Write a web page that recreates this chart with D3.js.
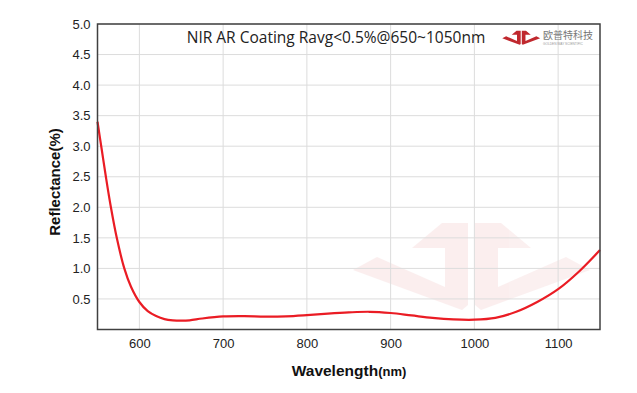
<!DOCTYPE html>
<html>
<head>
<meta charset="utf-8">
<script src="https://cdn.jsdelivr.net/npm/d3@7"></script>
<style>
  body { margin: 0; background: #fff; }
  svg { display: block; }
</style>
</head>
<body>
<script>
// Reflectance curve
const wavelength = [550, 555, 560, 566, 573, 582, 590, 600, 610, 620, 630, 640, 650, 660, 675,
  700, 725, 750, 775, 800, 825, 850, 875, 900, 925, 950, 975, 1000, 1025, 1050, 1075, 1100, 1125, 1150];
const reflectance = [3.40, 2.95, 2.50, 2.00, 1.50, 1.00, 0.70, 0.45, 0.30, 0.22, 0.17, 0.15, 0.145, 0.15, 0.18,
  0.215, 0.22, 0.21, 0.215, 0.235, 0.26, 0.28, 0.29, 0.27, 0.23, 0.19, 0.165, 0.16, 0.19, 0.29, 0.45, 0.66, 0.95, 1.30];

const xTicks = [600, 700, 800, 900, 1000, 1100];
const yTicks = [0.5, 1.0, 1.5, 2.0, 2.5, 3.0, 3.5, 4.0, 4.5, 5.0];

const title = "NIR AR Coating Ravg<0.5%@650~1050nm";
const brandName = "欧普特科技";
const brandSub = "GOLDEN WAY SCIENTIFIC";

const width = 637, height = 393;
const margin = { top: 24, right: 37, bottom: 64, left: 97.5 };

const svg = d3.select("body").append("svg")
    .attr("width", width)
    .attr("height", height);

const x = d3.scaleLinear().domain([550, 1150]).range([margin.left, width - margin.right]);
const y = d3.scaleLinear().domain([0, 5]).range([height - margin.bottom + 0.5, margin.top]);

// logo shape (left "J" half, right half mirrored), in a ~245x95 box
const leftPiece = [[8, 55], [32, 42], [100, 72], [100, 33], [67, 33], [97, 8],
  [123, 8], [123, 90], [117, 95]];
const rightPiece = leftPiece.map(([px, py]) => [253 - px, py]);
const logoLine = d3.line();

function drawLogo(g, x0, y0, s, fill, opacity) {
  const grp = g.append("g")
      .attr("transform", `translate(${x0},${y0}) scale(${s})`)
      .attr("fill", fill)
      .attr("opacity", opacity);
  grp.append("path").attr("d", logoLine(leftPiece) + "Z");
  grp.append("path").attr("d", logoLine(rightPiece) + "Z");
}

// faint watermark in the plot
drawLogo(svg, 345, 215, 1, "#d03a3a", 0.08);

// grid
svg.append("g")
  .selectAll("line")
  .data(xTicks)
  .join("line")
    .attr("x1", d => x(d)).attr("x2", d => x(d))
    .attr("y1", y(0)).attr("y2", y(5))
    .attr("stroke", "#dcdcdc");

svg.append("g")
  .selectAll("line")
  .data(yTicks)
  .join("line")
    .attr("x1", x(550)).attr("x2", x(1150))
    .attr("y1", d => y(d)).attr("y2", d => y(d))
    .attr("stroke", "#dcdcdc");

// curve
const line = d3.line()
    .x((d, i) => x(wavelength[i]))
    .y(d => y(d))
    .curve(d3.curveCatmullRom.alpha(0.5));

svg.append("path")
    .datum(reflectance)
    .attr("d", line)
    .attr("fill", "none")
    .attr("stroke", "#ea1c24")
    .attr("stroke-width", 2.2);

// frame
svg.append("rect")
    .attr("x", x(550)).attr("y", y(5))
    .attr("width", x(1150) - x(550))
    .attr("height", y(0) - y(5))
    .attr("fill", "none")
    .attr("stroke", "#404040")
    .attr("stroke-width", 1.5);

// axes
const xAxis = svg.append("g")
    .attr("transform", `translate(0,${y(0)})`)
    .call(d3.axisBottom(x).tickValues(xTicks).tickSize(0).tickPadding(9).tickFormat(d3.format("d")));
const yAxis = svg.append("g")
    .attr("transform", `translate(${x(550)},0)`)
    .call(d3.axisLeft(y).tickValues(yTicks).tickSize(0).tickPadding(7).tickFormat(d3.format(".1f")));

[xAxis, yAxis].forEach(a => {
  a.select(".domain").remove();
  a.selectAll("text")
      .attr("font-family", "Liberation Sans, Arial, sans-serif")
      .attr("font-size", 13)
      .attr("fill", "#222");
});

// axis titles
const xl = svg.append("text")
    .attr("x", 349).attr("y", 376)
    .attr("text-anchor", "middle")
    .attr("font-family", "Liberation Sans, Arial, sans-serif")
    .attr("font-weight", "bold")
    .attr("fill", "#111");
xl.append("tspan").attr("font-size", 15.5).text("Wavelength");
xl.append("tspan").attr("font-size", 13).text("(nm)");

svg.append("text")
    .attr("transform", "translate(60,182) rotate(-90)")
    .attr("text-anchor", "middle")
    .attr("font-family", "Liberation Sans, Arial, sans-serif")
    .attr("font-weight", "bold")
    .attr("font-size", 15)
    .attr("fill", "#111")
    .text("Reflectance(%)");

// chart title
svg.append("text")
    .attr("x", 336).attr("y", 43)
    .attr("text-anchor", "middle")
    .attr("font-family", "Open Sans, sans-serif")
    .attr("font-size", 15.5)
    .attr("fill", "#222")
    .text(title);

// brand logo top right
drawLogo(svg, 501, 29.5, 0.16, "#c0282e", 1);
svg.append("text")
    .attr("x", 543).attr("y", 39)
    .attr("font-family", "Noto Sans CJK SC, sans-serif")
    .attr("font-size", 10)
    .attr("fill", "#777")
    .text(brandName);
svg.append("text")
    .attr("x", 543).attr("y", 45)
    .attr("font-family", "Liberation Sans, sans-serif")
    .attr("font-size", 3.2)
    .attr("fill", "#999")
    .text(brandSub);
</script>
</body>
</html>
